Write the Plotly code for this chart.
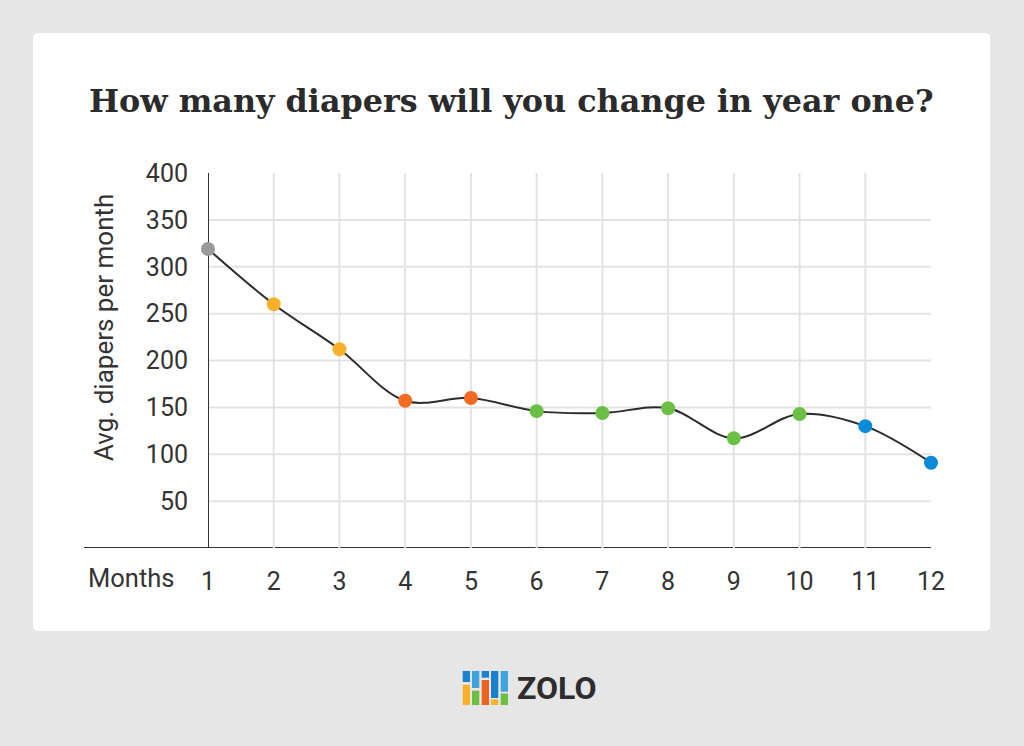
import plotly.graph_objects as go

W, H = 1024, 746

months = list(range(1, 13))
month_labels = [str(m) for m in months]
diapers = [319, 260, 212, 157, 160, 146, 144, 149, 117, 143, 130, 91]
point_colors = ["#9a9a9a", "#f9b12c", "#f9b12c", "#f26b22", "#f26b22",
                "#6cbf45", "#6cbf45", "#6cbf45", "#6cbf45", "#6cbf45",
                "#0a8bd8", "#0a8bd8"]
y_ticks = [50, 100, 150, 200, 250, 300, 350, 400]
y_grid = [50, 100, 150, 200, 250, 300, 350]
x_grid = months[1:-1]

title = "How many diapers will you change in year one?"
y_title = "Avg. diapers per month"
x_title = "Months"

def px(x):
    return x / W

def py(y):
    return 1 - y / H

fig = go.Figure()
fig.add_trace(go.Scatter(
    x=months, y=diapers, mode="lines",
    line=dict(color="#2b2b2b", width=2, shape="spline", smoothing=1.0),
    hoverinfo="skip", cliponaxis=False, showlegend=False))
fig.add_trace(go.Scatter(
    x=months, y=diapers, mode="markers",
    marker=dict(color=point_colors, size=14, line=dict(width=0)),
    cliponaxis=False, showlegend=False))

shapes = []
# card with rounded corners
x0, x1, y0, y1, r = 33, 990, 33, 631, 5
path = (f"M {px(x0+r)},{py(y0)} L {px(x1-r)},{py(y0)} Q {px(x1)},{py(y0)} {px(x1)},{py(y0+r)} "
        f"L {px(x1)},{py(y1-r)} Q {px(x1)},{py(y1)} {px(x1-r)},{py(y1)} "
        f"L {px(x0+r)},{py(y1)} Q {px(x0)},{py(y1)} {px(x0)},{py(y1-r)} "
        f"L {px(x0)},{py(y0+r)} Q {px(x0)},{py(y0)} {px(x0+r)},{py(y0)} Z")
shapes.append(dict(type="path", path=path, xref="paper", yref="paper",
                   fillcolor="white", line=dict(width=0), layer="below"))
for m in x_grid:
    shapes.append(dict(type="line", xref="x", yref="y", x0=m, x1=m, y0=0, y1=400,
                       line=dict(color="#e3e3e3", width=2), layer="below"))
for v in y_grid:
    shapes.append(dict(type="line", xref="x", yref="y", x0=1, x1=12, y0=v, y1=v,
                       line=dict(color="#e3e3e3", width=2), layer="below"))
# baseline extending left
shapes.append(dict(type="line", xref="paper", yref="y", x0=px(84), x1=px(931), y0=0, y1=0,
                   line=dict(color="#333333", width=2), layer="below"))
# y axis line
shapes.append(dict(type="line", xref="x", yref="y", x0=1, x1=1, y0=0, y1=400,
                   line=dict(color="#333333", width=2), layer="below"))

# logo bars
logo = [
    (462.7, 470.0, [(671, 682, "#1a80d0"), (684.7, 705, "#f9b12c")]),
    (472.0, 479.3, [(671, 688, "#3fa4dd"), (690.7, 705, "#6cbf45")]),
    (481.7, 489.0, [(671, 677.7, "#1a80d0"), (680, 705, "#f0601f")]),
    (491.0, 498.3, [(671, 698, "#1a80d0"), (699.5, 705, "#f9b12c")]),
    (500.7, 508.0, [(671, 691.7, "#3fa4dd"), (693.5, 705, "#6cbf45")]),
]
for lx0, lx1, segs in logo:
    for sy0, sy1, c in segs:
        shapes.append(dict(type="rect", xref="paper", yref="paper",
                           x0=px(lx0), x1=px(lx1), y0=py(sy1), y1=py(sy0),
                           fillcolor=c, line=dict(width=0)))

annotations = [
    dict(text=f"<b>{title}</b>", x=px(511), y=py(101), xref="paper", yref="paper",
         showarrow=False, xanchor="center", yanchor="middle",
         font=dict(family="DejaVu Serif", size=31.8, color="#2b2b2b")),
    dict(text=y_title, x=px(104), y=py(328), xref="paper", yref="paper",
         showarrow=False, textangle=-90, xanchor="center", yanchor="middle",
         font=dict(family="Roboto", size=26, color="#333333")),
    dict(text=x_title, x=px(131), y=py(578), xref="paper", yref="paper",
         showarrow=False, xanchor="center", yanchor="middle",
         font=dict(family="Roboto", size=25.5, color="#333333")),
    dict(text="<b>ZOLO</b>", x=px(556), y=py(688), xref="paper", yref="paper",
         showarrow=False, xanchor="center", yanchor="middle",
         font=dict(family="Roboto", size=32, color="#2d2d2d")),
]

fig.update_layout(
    template="none",
    width=W, height=H,
    margin=dict(l=0, r=0, t=0, b=0, pad=0, autoexpand=False),
    paper_bgcolor="#e6e6e6",
    plot_bgcolor="rgba(0,0,0,0)",
    shapes=shapes,
    annotations=annotations,
    showlegend=False,
    xaxis=dict(domain=[px(208), px(931)], range=[1, 12], tickvals=months,
               ticktext=month_labels, showgrid=False, zeroline=False, showline=False,
               automargin=False,
               ticks="outside", ticklen=11, tickcolor="rgba(0,0,0,0)",
               tickfont=dict(family="Roboto", size=25, color="#333333")),
    yaxis=dict(domain=[py(548), py(173)], range=[0, 400], tickvals=y_ticks,
               showgrid=False, zeroline=False, showline=False,
               automargin=False,
               ticks="outside", ticklen=14, tickcolor="rgba(0,0,0,0)",
               tickfont=dict(family="Roboto", size=25, color="#333333")),
)

fig.write_html("out.html")
